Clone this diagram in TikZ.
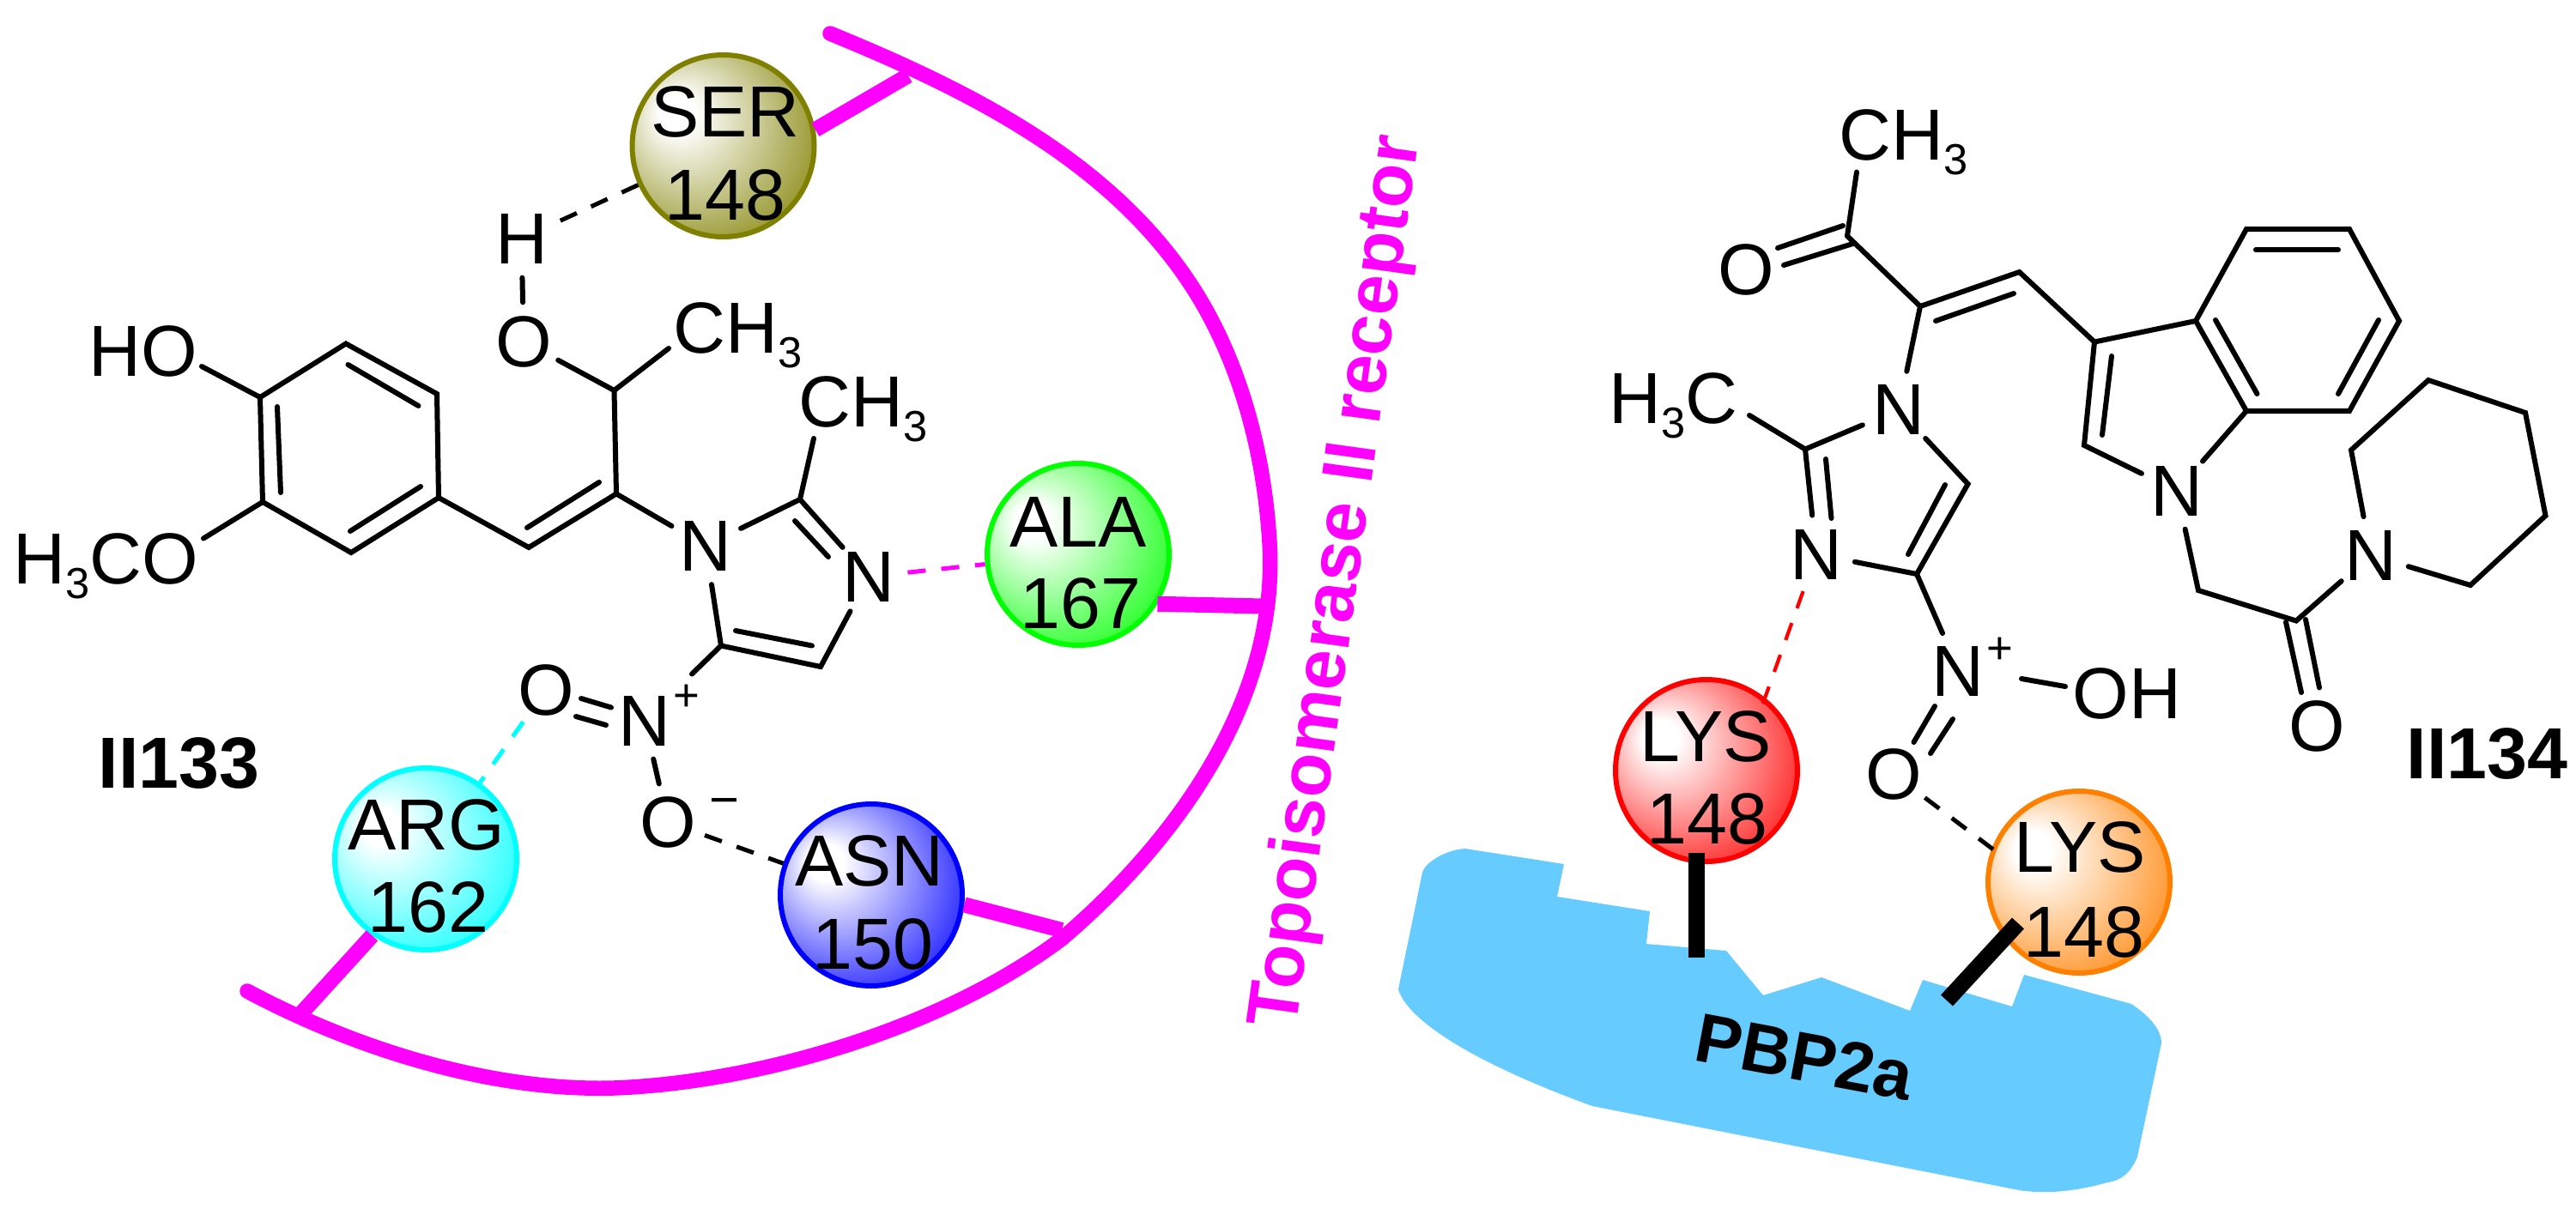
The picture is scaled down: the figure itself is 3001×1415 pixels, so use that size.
\documentclass[tikz,border=0pt]{standalone}
\usepackage{fontspec}
\setmainfont{Liberation Sans}
\definecolor{mag}{RGB}{255,0,255}
\definecolor{pbp}{RGB}{102,204,255}
\definecolor{cser}{RGB}{128,128,0}
\definecolor{cala}{RGB}{0,255,0}
\definecolor{carg}{RGB}{0,255,255}
\definecolor{casn}{RGB}{0,0,255}
\definecolor{clys}{RGB}{255,0,0}
\definecolor{corg}{RGB}{255,128,0}
\newcommand\mkball[2]{\pgfdeclareradialshading{#1}{\pgfpoint{-14bp}{10bp}}{color(0bp)=(white);color(5bp)=(white);color(38bp)=(#2);color(50bp)=(#2)}}
\mkball{sser}{cser}\mkball{sala}{cala}\mkball{sarg}{carg}\mkball{sasn}{casn}\mkball{slys}{clys}\mkball{sorg}{corg}
\newcommand\subthree{\raisebox{-5pt}{\fontsize{14.4}{14.4}\selectfont 3}}
\newcommand\bd[3]{\coordinate (#1a) at (#2);\coordinate (#1b) at (#3);\draw[bond] (#1a) -- (#1b);}
\tikzset{
 bond/.style={line width=0.6mm,line cap=round,line join=miter},
 hb/.style={line width=0.5mm,dash pattern=on 6pt off 5.2pt},
 arcline/.style={mag,line width=1.75mm,line cap=round},
 stubm/.style={mag,line width=1.8mm},
 stubk/.style={black,line width=1.9mm},
 ball/.style={circle,inner sep=0pt,minimum size=21.2mm,line width=0.6mm,draw=#1},
 atom/.style={circle,inner sep=0pt,minimum size=9mm,font=\fontsize{24}{24}\selectfont},
 grp/.style={anchor=base west,inner sep=0pt,font=\fontsize{24}{24}\selectfont},
 res/.style={inner sep=0pt,font=\fontsize{24}{24}\selectfont},
 chg/.style={inner sep=0pt,font=\fontsize{15}{15}\selectfont},
 idl/.style={anchor=base west,inner sep=0pt,font=\fontsize{24}{24}\selectfont\bfseries},
}
\begin{document}
\begin{tikzpicture}[x=0.1mm,y=-0.1mm]
\useasboundingbox (0,0) rectangle (3001,1415);
% PBP2a
\fill[pbp] (1707,989) -- (1822,1007) -- (1814,1045) -- (1922,1062) -- (1918,1100) -- (2011,1108) -- (2054,1160) -- (2122,1139) -- (2225,1178) -- (2240,1142) -- (2344,1173) -- (2358,1136) -- (2483,1170) .. controls (2505,1185) and (2518,1200) .. (2518,1216) -- (2490,1348) .. controls (2482,1368) and (2470,1376) .. (2455,1378) .. controls (2420,1388) and (2385,1392) .. (2352,1387) -- (1855,1289) .. controls (1720,1240) and (1640,1190) .. (1629,1153) -- (1657,1017) .. controls (1660,1005) and (1685,990) .. (1707,989) -- cycle;
\node[inner sep=0pt,rotate=-10.6,font=\fontsize{23}{23}\selectfont\bfseries] (pbplabel) at (2102,1232) {PBP2a};
% receptor arc
\draw[arcline] (967,39) .. controls (1133,107) and (1301,191) .. (1395,344) .. controls (1447,429) and (1473,532) .. (1479,632) .. controls (1490,812) and (1374,977) .. (1237,1094) .. controls (1096,1200) and (880,1262) .. (715,1268) .. controls (575,1272) and (417,1224) .. (288,1155);
\coordinate (arcS) at (1058,88);
\coordinate (arcA) at (1476,706.6);
\coordinate (arcN) at (1237,1084);
\coordinate (arcR) at (350,1182);
% balls
\node[ball=cser,shading=sser] (ser) at (842.5,170) {};
\node[ball=cala,shading=sala] (ala) at (1256,646) {};
\node[ball=carg,shading=sarg] (arg) at (496,1001) {};
\node[ball=casn,shading=sasn] (asn) at (1015,1043) {};
\node[ball=clys,shading=slys] (lysa) at (1988,898) {};
\node[ball=corg,shading=sorg] (lysb) at (2422,1028) {};
\draw[stubm] (ser.10) -- (arcS);
\draw[stubm] (ala.-32) -- (arcA);
\draw[stubm] (asn.-6) -- (arcN);
\draw[stubm] (arg.-125) -- (arcR);
\node[res] (t1) at (845,130) {SER};
\node[res] (t2) at (845,227) {148};
\node[res] (t3) at (1256,608) {ALA};
\node[res] (t4) at (1259,703) {167};
\node[res] (t5) at (496.5,961) {ARG};
\node[res] (t6) at (499,1057) {162};
\node[res] (t7) at (1013,1003) {ASN};
\node[res] (t8) at (1017,1100) {150};
\node[res] (t9) at (1987,858) {LYS};
\node[res] (t10) at (1989,954) {148};
\node[res] (t11) at (2423,987.5) {LYS};
\node[res] (t12) at (2428,1086) {148};
\coordinate (ka) at (1976,994);\coordinate (kb) at (1976,1116);
\coordinate (kc) at (2351,1076);\coordinate (kd) at (2268,1166);
\draw[stubk] (ka) -- (kb);
\draw[stubk] (kc) -- (kd);
% title
\node[anchor=base west,inner sep=0pt,rotate=82.1,text=mag,font=\fontsize{24}{24}\selectfont\bfseries] (recp) at (1509,1201) {Topoisomerase II receptor};
\node[idl] (id1) at (114,918) {II133};
\node[idl] (id2) at (2803,907) {II134};
% left molecule atoms
\node[atom] (H) at (607.5,278) {H};
\node[atom] (O1) at (610,398) {O};
\node[atom] (N1) at (822,636) {N};
\node[atom] (N3) at (1012,672) {N};
\node[atom] (O2) at (636,804) {O};
\node[atom] (Np) at (751,840) {N};
\node[atom] (Om) at (778,958) {O};
\node[chg] (pl1) at (800,813) {+};
\node[chg,font=\fontsize{17}{17}\selectfont] (mi1) at (844,941) {−};
\node[grp] (gHO) at (103,438) {HO};
\node[grp] (gMeO) at (15,680) {H\subthree CO};
\node[grp] (gMe1) at (784,411) {CH\subthree};
\node[grp] (gMe2) at (930,497) {CH\subthree};
\coordinate (a1) at (511,580);\coordinate (a2) at (509,459);\coordinate (a3) at (403,400.5);
\coordinate (a4) at (303,463);\coordinate (a5) at (306,585);\coordinate (a6) at (409,644);
\coordinate (v1) at (616,638);\coordinate (v2) at (718,575.5);\coordinate (chi) at (715.5,455);
\coordinate (c2) at (932,582);\coordinate (c4) at (956,777);\coordinate (c5) at (840,752.5);
\coordinate (eHO) at (235,427);\coordinate (eMeO) at (237,627.5);\coordinate (eMe1) at (779,406);\coordinate (eMe2) at (948,511);
\draw[bond] (a1) -- (a2) -- (a3) -- (a4) -- (a5) -- (a6) -- cycle;
\bd{ia}{405.5,425}{487.5,473}
\bd{ib}{323,474}{327,574}
\bd{ic}{408,619}{490,567}
\draw[bond] (a4) -- (eHO);
\draw[bond] (a5) -- (eMeO);
\draw[bond] (a1) -- (v1) -- (v2) -- (chi) -- (eMe1);
\bd{id}{614,615}{698,562}
\draw[bond] (chi) -- (O1);
\draw[bond] (O1) -- (H);
\draw[bond] (v2) -- (N1);
\draw[bond] (N1) -- (c2) -- (N3);
\bd{ie}{926,607}{965,649}
\draw[bond] (c2) -- (eMe2);
\draw[bond] (N3) -- (c4) -- (c5) -- (N1);
\bd{if}{857,735}{946,752.5}
\coordinate (eNp) at (806,785.5);
\draw[bond] (c5) -- (eNp);
\bd{ig}{712,824.5}{677,814}
\bd{ih}{706,845}{671,835}
\draw[bond] (Np) -- (Om);
% hydrogen bonds
\draw[hb] (ser) -- (H);
\draw[hb,mag] (N3) -- (ala);
\draw[hb,carg] (O2) -- (arg);
\draw[hb] (Om) -- (asn);
% right molecule
\node[atom] (O3) at (2034,314) {O};
\node[atom] (N4) at (2212,477.5) {N};
\node[atom] (N5) at (2116,646) {N};
\node[atom] (Np2) at (2281,782) {N};
\node[chg] (pl2) at (2330,758) {+};
\node[atom] (O4) at (2206,902) {O};
\node[atom] (N6) at (2536,572) {N};
\node[atom] (N7) at (2762,647) {N};
\node[atom] (O5) at (2699,846) {O};
\node[grp] (gMe3) at (2142,186) {CH\subthree};
\node[grp] (gMe4) at (1874,493) {H\subthree C};
\node[grp] (gOH) at (2414,837) {OH};
\coordinate (co) at (2152,275);\coordinate (ca) at (2237,357);\coordinate (vh) at (2352.5,317);
\coordinate (d2) at (2103,523.5);\coordinate (d4) at (2233,669);\coordinate (d5) at (2292.6,564);
\coordinate (i3) at (2440,398.5);\coordinate (i3a) at (2558,374);\coordinate (i4) at (2617,267);
\coordinate (i5) at (2737,267);\coordinate (i6) at (2795,374);\coordinate (i7) at (2737,479);
\coordinate (i7a) at (2617,479);\coordinate (i2) at (2428,519);
\coordinate (ch2) at (2561,688);\coordinate (am) at (2675,723.5);
\coordinate (p1) at (2739,524.5);\coordinate (p2) at (2829,443);\coordinate (p3) at (2942,481);
\coordinate (p4) at (2965.5,601);\coordinate (p5) at (2878,682);
\coordinate (eMe3) at (2163,200.5);\coordinate (eMe4) at (2038,484);
\coordinate (eNp2) at (2263,738);
\draw[bond] (co) -- (eMe3);
\bd{ja}{2071,289}{2147,263}
\bd{jb}{2078,309}{2158.5,284}
\draw[bond] (co) -- (ca) -- (vh) -- (i3);
\bd{jc}{2255,374}{2346,342}
\draw[bond] (ca) -- (N4);
\draw[bond] (N4) -- (d2) -- (N5);
\draw[bond] (d2) -- (eMe4);
\bd{jd}{2127,535}{2133.5,604}
\draw[bond] (N4) -- (d5) -- (d4) -- (N5);
\bd{je}{2266,565}{2223,646}
\draw[bond] (d4) -- (eNp2);
\bd{jf}{2355,791}{2406,800}
\bd{jg}{2254,823}{2229.5,865}
\bd{jh}{2275,838}{2249,878}
\draw[bond] (i3) -- (i3a) -- (i4) -- (i5) -- (i6) -- (i7) -- (i7a) -- (i3a);
\bd{ji}{2628,291}{2724,291}
\bd{jj}{2771,373}{2724,459}
\bd{jk}{2581,373}{2629.5,459}
\bd{jl}{2460,415}{2449,507}
\draw[bond] (i3) -- (i2) -- (N6);
\draw[bond] (i7a) -- (N6);
\draw[bond] (N6) -- (ch2) -- (am) -- (N7);
\bd{jm}{2663,725}{2681,807}
\bd{jn}{2686,722}{2702,801.5}
\draw[bond] (N7) -- (p1) -- (p2) -- (p3) -- (p4) -- (p5) -- (N7);
% hydrogen bonds right
\coordinate (lysEnd) at (2053,822);
\draw[hb,clys,line width=0.42mm] (N5) -- (lysEnd);
\coordinate (lysEnd2) at (2330,996);
\draw[hb] (O4) -- (lysEnd2);
\end{tikzpicture}
\end{document}
